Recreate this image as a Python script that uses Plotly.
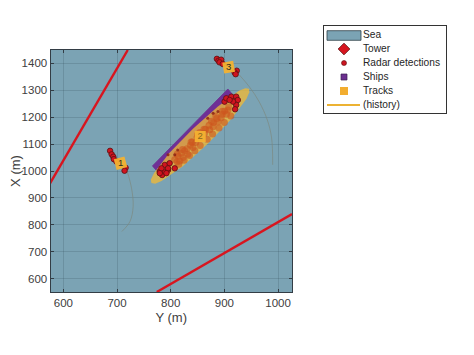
import plotly.graph_objects as go

SEA = "#7ba3b4"
AXIS = "#333d45"
TEXT = "#404040"
FONT = "Liberation Sans"
PAGE_MARGIN = 8  # browser's default body margin
W = 474 - PAGE_MARGIN
H = 355 - PAGE_MARGIN

# Radar coverage lines (Y, X)
coverage_a_y = [574, 720]
coverage_a_x = [950, 1450]
coverage_b_y = [774, 1026]
coverage_b_x = [550, 840]

# Ship outline
ship_y = [906.5, 918, 778, 766, 906.5]
ship_x = [1305, 1278, 991, 1019, 1305]

# Track 2 extent outline
extent_y = [946, 946.5, 941, 913, 869, 822, 783, 771, 764, 763, 769, 797, 841, 888, 927, 939, 946]
extent_x = [1306, 1293, 1268, 1193, 1101, 1017, 963, 953, 955, 968, 993, 1066, 1156, 1240, 1298, 1308, 1306]

# Track histories
history_1_y = [719, 727, 730, 724, 709]
history_1_x = [998, 936, 868, 812, 775]
history_3_y = [928, 947, 965, 980, 988, 990]
history_3_x = [1357, 1312, 1257, 1190, 1123, 1023]

# Older detections on the ship
faded_y = [807.5, 813.7, 811.8, 820, 823, 826, 830.4, 832, 836.6, 841.6, 840.4, 846.6, 849, 857, 854,
           863, 865, 872.6, 871.4, 879, 880, 888, 886, 894, 896, 904, 900.5, 906.7, 817,
           815, 825, 835, 845, 855, 868, 878, 890, 900, 912,
           812, 822, 838, 850, 862, 876, 884, 896, 908]
faded_x = [1043, 1056, 1034, 1066, 1050, 1075, 1083, 1062, 1096, 1087, 1108, 1106, 1124, 1124, 1143,
           1140, 1155, 1153, 1170, 1165, 1180, 1182, 1195, 1198, 1211, 1211, 1223, 1227, 1037,
           1025, 1040, 1058, 1075, 1095, 1118, 1138, 1160, 1180, 1205,
           1063, 1080, 1108, 1135, 1155, 1185, 1205, 1222, 1238]

# Thin dark marks along the ship
trace_y = [795, 807.5, 813, 869, 879, 888]
trace_x = [1060, 1060, 1078, 1196, 1215, 1221]

# Latest detections
det_y = [687, 690, 693, 694, 699, 716, 714,
         886, 889, 894, 891, 897, 923, 919, 921,
         779.6, 784, 789, 795, 789, 798, 795, 807.5, 782.7, 779.6, 792,
         900.4, 903.6, 913, 922, 925, 922, 920, 916, 909.7]
det_x = [1075, 1062, 1053, 1044, 1035, 1012, 1001,
         1417, 1410, 1414, 1404, 1398, 1373, 1367, 1360,
         998, 985, 998, 1004, 1022.5, 1029, 1010, 1010, 1010, 992, 992,
         1258, 1270.5, 1276.4, 1276.4, 1264, 1245.6, 1229.6, 1258, 1264]

# Tracks
track_y = [706.5, 855, 908]
track_x = [1029, 1128, 1386]
track_labels = ["1", "2", "3"]
track_tilt = [-15, 0, -10]
track_label_colors = ["#2b2b20", "#8a6a20", "#2b2b20"]

# Ticks
x_ticks = [600, 700, 800, 900, 1000]
y_ticks = [600, 700, 800, 900, 1000, 1100, 1200, 1300, 1400]

# Legend
legend_labels = ["Sea", "Tower", "Radar detections", "Ships", "Tracks", "(history)"]
legend_rows = [9, 23, 37, 51, 65, 79]


def dom_x(a, b):
    return [(a - PAGE_MARGIN) / W, (b - PAGE_MARGIN) / W]


def dom_y(top, bottom):
    return [(355 - bottom) / H, (355 - top) / H]


fig = go.Figure()

for yy, xx in [(coverage_a_y, coverage_a_x), (coverage_b_y, coverage_b_x)]:
    fig.add_trace(go.Scatter(x=yy, y=xx, mode="lines", line=dict(color="#d8151f", width=2.4)))

for yy, xx in [(history_1_y, history_1_x), (history_3_y, history_3_x)]:
    fig.add_trace(go.Scatter(x=yy, y=xx, mode="lines", line=dict(color="rgba(125,135,125,0.65)", width=1, shape="spline")))

fig.add_trace(go.Scatter(x=ship_y, y=ship_x, mode="lines", fill="toself",
                         fillcolor="#6f2f96", line=dict(width=0.8, color="#6b2f8f")))
fig.add_trace(go.Scatter(x=extent_y, y=extent_x, mode="lines", fill="toself",
                         fillcolor="rgba(238,184,55,0.78)", line=dict(width=0, color="rgba(0,0,0,0)")))
fig.add_trace(go.Scatter(x=faded_y, y=faded_x, mode="markers",
                         marker=dict(symbol="circle", size=7, color="rgba(205,85,30,0.6)", line=dict(width=0))))
fig.add_trace(go.Scatter(x=trace_y, y=trace_x, mode="markers",
                         marker=dict(symbol="circle", size=3, color="rgba(140,35,20,0.85)", line=dict(width=0))))
fig.add_trace(go.Scatter(x=det_y, y=det_x, mode="markers",
                         marker=dict(symbol="circle", size=5.5, color="#d0141f", line=dict(width=0.8, color="#5a1010"))))
fig.add_trace(go.Scatter(x=track_y, y=track_x, mode="markers+text", text=track_labels,
                         textposition="middle center",
                         textfont=dict(family=FONT, size=9.5, color=track_label_colors),
                         marker=dict(symbol="square", size=11, angle=track_tilt,
                                     color="rgba(243,178,50,0.95)", line=dict(width=0))))

# Legend panel
LX = "x2"
LY = "y2"
fig.add_trace(go.Scatter(x=[3, 37, 37, 3, 3], y=[4.7, 4.7, 14.3, 14.3, 4.7], xaxis=LX, yaxis=LY, mode="lines",
                         fill="toself", fillcolor=SEA, line=dict(color="#2f3f48", width=0.8)))
fig.add_trace(go.Scatter(x=[20], y=[legend_rows[1]], xaxis=LX, yaxis=LY, mode="markers",
                         marker=dict(symbol="diamond", size=9, color="#d8151f", line=dict(width=0.8, color="#5a1010"))))
fig.add_trace(go.Scatter(x=[20], y=[legend_rows[2]], xaxis=LX, yaxis=LY, mode="markers",
                         marker=dict(symbol="circle", size=5, color="#cc1420", line=dict(width=0.6, color="#5a1010"))))
fig.add_trace(go.Scatter(x=[20], y=[legend_rows[3]], xaxis=LX, yaxis=LY, mode="markers",
                         marker=dict(symbol="square", size=6, color="#6b2f8f", line=dict(width=0.7, color="#3a2050"))))
fig.add_trace(go.Scatter(x=[20], y=[legend_rows[4]], xaxis=LX, yaxis=LY, mode="markers",
                         marker=dict(symbol="square", size=8, color="#f2ad2f", line=dict(width=0))))
fig.add_trace(go.Scatter(x=[3, 36], y=[legend_rows[5], legend_rows[5]], xaxis=LX, yaxis=LY, mode="lines",
                         line=dict(color="#ecb232", width=2)))
fig.add_trace(go.Scatter(x=[39] * len(legend_labels), y=legend_rows, xaxis=LX, yaxis=LY, mode="text",
                         text=legend_labels, textposition="middle right",
                         textfont=dict(family=FONT, size=10.2, color="#262626")))

axis_style = dict(showline=True, mirror="ticks", linecolor=AXIS, linewidth=1,
                  ticks="inside", ticklen=3, tickcolor=AXIS, tickwidth=1,
                  showgrid=True, gridcolor="rgba(40,60,70,0.18)", gridwidth=1,
                  zeroline=False, tickfont=dict(family=FONT, size=11.5, color=TEXT))

fig.update_layout(
    width=W, height=H, margin=dict(l=0, r=0, t=0, b=0, autoexpand=False),
    paper_bgcolor="white", plot_bgcolor="white", showlegend=False,
    xaxis=dict(domain=dom_x(50.5, 292), range=[576, 1026], tickvals=x_ticks,
               title=dict(text="Y (m)", standoff=5, font=dict(family=FONT, size=13, color=TEXT)), **axis_style),
    yaxis=dict(domain=dom_y(50, 292), range=[550, 1450], tickvals=y_ticks,
               title=dict(text="X (m)", standoff=4, font=dict(family=FONT, size=13, color=TEXT)), **axis_style),
    xaxis2=dict(domain=dom_x(324, 446), range=[0, 122], anchor="y2", showticklabels=False,
                ticks="", showgrid=False, zeroline=False, showline=True, mirror=True, linecolor="#333333", linewidth=1),
    yaxis2=dict(domain=dom_y(26, 113), range=[87, 0], anchor="x2", showticklabels=False,
                ticks="", showgrid=False, zeroline=False, showline=True, mirror=True, linecolor="#333333", linewidth=1),
    shapes=[dict(type="rect", xref="x domain", yref="y domain", x0=0, x1=1, y0=0, y1=1,
                 fillcolor=SEA, line=dict(width=0), layer="below")],
)

fig.write_html("out.html")
